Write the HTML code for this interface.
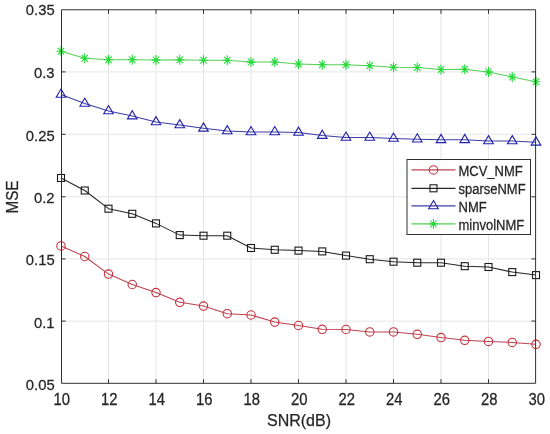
<!DOCTYPE html><html><head><meta charset="utf-8"><style>html,body{margin:0;padding:0;background:#fff;}svg{display:block;}text{font-family:"Liberation Sans",Arial,sans-serif;stroke:#262626;stroke-width:0.25px;}</style></head><body>
<svg width="550" height="434" viewBox="0 0 550 434">
<rect width="550" height="434" fill="#fff"/>
<path d="M108.50,9.75V383.3 M156.00,9.75V383.3 M203.50,9.75V383.3 M251.00,9.75V383.3 M298.50,9.75V383.3 M346.00,9.75V383.3 M393.50,9.75V383.3 M441.00,9.75V383.3 M488.50,9.75V383.3 M61.5,71.90H535.6 M61.5,134.30H535.6 M61.5,196.80H535.6 M61.5,258.90H535.6 M61.5,321.10H535.6" stroke="#e5e5e5" stroke-width="1" fill="none"/>
<polyline points="61.00,245.90 84.75,256.50 108.50,274.10 132.25,284.50 156.00,292.60 179.75,302.30 203.50,306.10 227.25,313.70 251.00,315.00 274.75,322.10 298.50,325.50 322.25,329.30 346.00,329.50 369.75,331.90 393.50,331.90 417.25,334.30 441.00,337.60 464.75,340.30 488.50,341.40 512.25,342.40 536.00,344.30" fill="none" stroke="#bd4250" stroke-width="1.05" stroke-linejoin="round"/>
<circle cx="61.00" cy="245.90" r="4.2" fill="none" stroke="#c8303c" stroke-width="1.1"/>
<circle cx="84.75" cy="256.50" r="4.2" fill="none" stroke="#c8303c" stroke-width="1.1"/>
<circle cx="108.50" cy="274.10" r="4.2" fill="none" stroke="#c8303c" stroke-width="1.1"/>
<circle cx="132.25" cy="284.50" r="4.2" fill="none" stroke="#c8303c" stroke-width="1.1"/>
<circle cx="156.00" cy="292.60" r="4.2" fill="none" stroke="#c8303c" stroke-width="1.1"/>
<circle cx="179.75" cy="302.30" r="4.2" fill="none" stroke="#c8303c" stroke-width="1.1"/>
<circle cx="203.50" cy="306.10" r="4.2" fill="none" stroke="#c8303c" stroke-width="1.1"/>
<circle cx="227.25" cy="313.70" r="4.2" fill="none" stroke="#c8303c" stroke-width="1.1"/>
<circle cx="251.00" cy="315.00" r="4.2" fill="none" stroke="#c8303c" stroke-width="1.1"/>
<circle cx="274.75" cy="322.10" r="4.2" fill="none" stroke="#c8303c" stroke-width="1.1"/>
<circle cx="298.50" cy="325.50" r="4.2" fill="none" stroke="#c8303c" stroke-width="1.1"/>
<circle cx="322.25" cy="329.30" r="4.2" fill="none" stroke="#c8303c" stroke-width="1.1"/>
<circle cx="346.00" cy="329.50" r="4.2" fill="none" stroke="#c8303c" stroke-width="1.1"/>
<circle cx="369.75" cy="331.90" r="4.2" fill="none" stroke="#c8303c" stroke-width="1.1"/>
<circle cx="393.50" cy="331.90" r="4.2" fill="none" stroke="#c8303c" stroke-width="1.1"/>
<circle cx="417.25" cy="334.30" r="4.2" fill="none" stroke="#c8303c" stroke-width="1.1"/>
<circle cx="441.00" cy="337.60" r="4.2" fill="none" stroke="#c8303c" stroke-width="1.1"/>
<circle cx="464.75" cy="340.30" r="4.2" fill="none" stroke="#c8303c" stroke-width="1.1"/>
<circle cx="488.50" cy="341.40" r="4.2" fill="none" stroke="#c8303c" stroke-width="1.1"/>
<circle cx="512.25" cy="342.40" r="4.2" fill="none" stroke="#c8303c" stroke-width="1.1"/>
<circle cx="536.00" cy="344.30" r="4.2" fill="none" stroke="#c8303c" stroke-width="1.1"/>
<polyline points="61.00,178.00 84.75,190.50 108.50,208.70 132.25,213.80 156.00,223.40 179.75,235.10 203.50,235.70 227.25,235.70 251.00,248.00 274.75,249.80 298.50,250.60 322.25,251.40 346.00,255.60 369.75,259.20 393.50,261.70 417.25,262.70 441.00,262.70 464.75,266.20 488.50,267.00 512.25,272.10 536.00,275.10" fill="none" stroke="#262626" stroke-width="1.05" stroke-linejoin="round"/>
<rect x="57.50" y="174.50" width="7" height="7" fill="none" stroke="#1a1a1a" stroke-width="1.1"/>
<rect x="81.25" y="187.00" width="7" height="7" fill="none" stroke="#1a1a1a" stroke-width="1.1"/>
<rect x="105.00" y="205.20" width="7" height="7" fill="none" stroke="#1a1a1a" stroke-width="1.1"/>
<rect x="128.75" y="210.30" width="7" height="7" fill="none" stroke="#1a1a1a" stroke-width="1.1"/>
<rect x="152.50" y="219.90" width="7" height="7" fill="none" stroke="#1a1a1a" stroke-width="1.1"/>
<rect x="176.25" y="231.60" width="7" height="7" fill="none" stroke="#1a1a1a" stroke-width="1.1"/>
<rect x="200.00" y="232.20" width="7" height="7" fill="none" stroke="#1a1a1a" stroke-width="1.1"/>
<rect x="223.75" y="232.20" width="7" height="7" fill="none" stroke="#1a1a1a" stroke-width="1.1"/>
<rect x="247.50" y="244.50" width="7" height="7" fill="none" stroke="#1a1a1a" stroke-width="1.1"/>
<rect x="271.25" y="246.30" width="7" height="7" fill="none" stroke="#1a1a1a" stroke-width="1.1"/>
<rect x="295.00" y="247.10" width="7" height="7" fill="none" stroke="#1a1a1a" stroke-width="1.1"/>
<rect x="318.75" y="247.90" width="7" height="7" fill="none" stroke="#1a1a1a" stroke-width="1.1"/>
<rect x="342.50" y="252.10" width="7" height="7" fill="none" stroke="#1a1a1a" stroke-width="1.1"/>
<rect x="366.25" y="255.70" width="7" height="7" fill="none" stroke="#1a1a1a" stroke-width="1.1"/>
<rect x="390.00" y="258.20" width="7" height="7" fill="none" stroke="#1a1a1a" stroke-width="1.1"/>
<rect x="413.75" y="259.20" width="7" height="7" fill="none" stroke="#1a1a1a" stroke-width="1.1"/>
<rect x="437.50" y="259.20" width="7" height="7" fill="none" stroke="#1a1a1a" stroke-width="1.1"/>
<rect x="461.25" y="262.70" width="7" height="7" fill="none" stroke="#1a1a1a" stroke-width="1.1"/>
<rect x="485.00" y="263.50" width="7" height="7" fill="none" stroke="#1a1a1a" stroke-width="1.1"/>
<rect x="508.75" y="268.60" width="7" height="7" fill="none" stroke="#1a1a1a" stroke-width="1.1"/>
<rect x="532.50" y="271.60" width="7" height="7" fill="none" stroke="#1a1a1a" stroke-width="1.1"/>
<polyline points="61.00,94.40 84.75,103.40 108.50,110.90 132.25,116.10 156.00,122.00 179.75,125.00 203.50,128.30 227.25,131.00 251.00,131.90 274.75,131.90 298.50,132.50 322.25,135.60 346.00,137.40 369.75,137.40 393.50,138.40 417.25,139.20 441.00,139.80 464.75,139.80 488.50,141.00 512.25,141.00 536.00,142.30" fill="none" stroke="#3e3ca4" stroke-width="1.05" stroke-linejoin="round"/>
<path d="M61.00,89.00 L65.80,97.20 L56.20,97.20 Z" fill="none" stroke="#2222aa" stroke-width="1.1" stroke-linejoin="miter"/>
<path d="M84.75,98.00 L89.55,106.20 L79.95,106.20 Z" fill="none" stroke="#2222aa" stroke-width="1.1" stroke-linejoin="miter"/>
<path d="M108.50,105.50 L113.30,113.70 L103.70,113.70 Z" fill="none" stroke="#2222aa" stroke-width="1.1" stroke-linejoin="miter"/>
<path d="M132.25,110.70 L137.05,118.90 L127.45,118.90 Z" fill="none" stroke="#2222aa" stroke-width="1.1" stroke-linejoin="miter"/>
<path d="M156.00,116.60 L160.80,124.80 L151.20,124.80 Z" fill="none" stroke="#2222aa" stroke-width="1.1" stroke-linejoin="miter"/>
<path d="M179.75,119.60 L184.55,127.80 L174.95,127.80 Z" fill="none" stroke="#2222aa" stroke-width="1.1" stroke-linejoin="miter"/>
<path d="M203.50,122.90 L208.30,131.10 L198.70,131.10 Z" fill="none" stroke="#2222aa" stroke-width="1.1" stroke-linejoin="miter"/>
<path d="M227.25,125.60 L232.05,133.80 L222.45,133.80 Z" fill="none" stroke="#2222aa" stroke-width="1.1" stroke-linejoin="miter"/>
<path d="M251.00,126.50 L255.80,134.70 L246.20,134.70 Z" fill="none" stroke="#2222aa" stroke-width="1.1" stroke-linejoin="miter"/>
<path d="M274.75,126.50 L279.55,134.70 L269.95,134.70 Z" fill="none" stroke="#2222aa" stroke-width="1.1" stroke-linejoin="miter"/>
<path d="M298.50,127.10 L303.30,135.30 L293.70,135.30 Z" fill="none" stroke="#2222aa" stroke-width="1.1" stroke-linejoin="miter"/>
<path d="M322.25,130.20 L327.05,138.40 L317.45,138.40 Z" fill="none" stroke="#2222aa" stroke-width="1.1" stroke-linejoin="miter"/>
<path d="M346.00,132.00 L350.80,140.20 L341.20,140.20 Z" fill="none" stroke="#2222aa" stroke-width="1.1" stroke-linejoin="miter"/>
<path d="M369.75,132.00 L374.55,140.20 L364.95,140.20 Z" fill="none" stroke="#2222aa" stroke-width="1.1" stroke-linejoin="miter"/>
<path d="M393.50,133.00 L398.30,141.20 L388.70,141.20 Z" fill="none" stroke="#2222aa" stroke-width="1.1" stroke-linejoin="miter"/>
<path d="M417.25,133.80 L422.05,142.00 L412.45,142.00 Z" fill="none" stroke="#2222aa" stroke-width="1.1" stroke-linejoin="miter"/>
<path d="M441.00,134.40 L445.80,142.60 L436.20,142.60 Z" fill="none" stroke="#2222aa" stroke-width="1.1" stroke-linejoin="miter"/>
<path d="M464.75,134.40 L469.55,142.60 L459.95,142.60 Z" fill="none" stroke="#2222aa" stroke-width="1.1" stroke-linejoin="miter"/>
<path d="M488.50,135.60 L493.30,143.80 L483.70,143.80 Z" fill="none" stroke="#2222aa" stroke-width="1.1" stroke-linejoin="miter"/>
<path d="M512.25,135.60 L517.05,143.80 L507.45,143.80 Z" fill="none" stroke="#2222aa" stroke-width="1.1" stroke-linejoin="miter"/>
<path d="M536.00,136.90 L540.80,145.10 L531.20,145.10 Z" fill="none" stroke="#2222aa" stroke-width="1.1" stroke-linejoin="miter"/>
<polyline points="61.00,51.30 84.75,58.20 108.50,59.80 132.25,59.80 156.00,59.90 179.75,59.80 203.50,60.30 227.25,60.30 251.00,62.10 274.75,62.00 298.50,64.00 322.25,64.80 346.00,64.80 369.75,65.80 393.50,67.20 417.25,67.50 441.00,69.50 464.75,69.30 488.50,71.90 512.25,77.00 536.00,81.80" fill="none" stroke="#55d055" stroke-width="1.05" stroke-linejoin="round"/>
<path d="M61.00,46.30V56.30M56.60,51.30H65.40M57.90,47.90L64.10,54.70M57.90,54.70L64.10,47.90" stroke="#22da36" stroke-width="1.1" fill="none"/>
<path d="M84.75,53.20V63.20M80.35,58.20H89.15M81.65,54.80L87.85,61.60M81.65,61.60L87.85,54.80" stroke="#22da36" stroke-width="1.1" fill="none"/>
<path d="M108.50,54.80V64.80M104.10,59.80H112.90M105.40,56.40L111.60,63.20M105.40,63.20L111.60,56.40" stroke="#22da36" stroke-width="1.1" fill="none"/>
<path d="M132.25,54.80V64.80M127.85,59.80H136.65M129.15,56.40L135.35,63.20M129.15,63.20L135.35,56.40" stroke="#22da36" stroke-width="1.1" fill="none"/>
<path d="M156.00,54.90V64.90M151.60,59.90H160.40M152.90,56.50L159.10,63.30M152.90,63.30L159.10,56.50" stroke="#22da36" stroke-width="1.1" fill="none"/>
<path d="M179.75,54.80V64.80M175.35,59.80H184.15M176.65,56.40L182.85,63.20M176.65,63.20L182.85,56.40" stroke="#22da36" stroke-width="1.1" fill="none"/>
<path d="M203.50,55.30V65.30M199.10,60.30H207.90M200.40,56.90L206.60,63.70M200.40,63.70L206.60,56.90" stroke="#22da36" stroke-width="1.1" fill="none"/>
<path d="M227.25,55.30V65.30M222.85,60.30H231.65M224.15,56.90L230.35,63.70M224.15,63.70L230.35,56.90" stroke="#22da36" stroke-width="1.1" fill="none"/>
<path d="M251.00,57.10V67.10M246.60,62.10H255.40M247.90,58.70L254.10,65.50M247.90,65.50L254.10,58.70" stroke="#22da36" stroke-width="1.1" fill="none"/>
<path d="M274.75,57.00V67.00M270.35,62.00H279.15M271.65,58.60L277.85,65.40M271.65,65.40L277.85,58.60" stroke="#22da36" stroke-width="1.1" fill="none"/>
<path d="M298.50,59.00V69.00M294.10,64.00H302.90M295.40,60.60L301.60,67.40M295.40,67.40L301.60,60.60" stroke="#22da36" stroke-width="1.1" fill="none"/>
<path d="M322.25,59.80V69.80M317.85,64.80H326.65M319.15,61.40L325.35,68.20M319.15,68.20L325.35,61.40" stroke="#22da36" stroke-width="1.1" fill="none"/>
<path d="M346.00,59.80V69.80M341.60,64.80H350.40M342.90,61.40L349.10,68.20M342.90,68.20L349.10,61.40" stroke="#22da36" stroke-width="1.1" fill="none"/>
<path d="M369.75,60.80V70.80M365.35,65.80H374.15M366.65,62.40L372.85,69.20M366.65,69.20L372.85,62.40" stroke="#22da36" stroke-width="1.1" fill="none"/>
<path d="M393.50,62.20V72.20M389.10,67.20H397.90M390.40,63.80L396.60,70.60M390.40,70.60L396.60,63.80" stroke="#22da36" stroke-width="1.1" fill="none"/>
<path d="M417.25,62.50V72.50M412.85,67.50H421.65M414.15,64.10L420.35,70.90M414.15,70.90L420.35,64.10" stroke="#22da36" stroke-width="1.1" fill="none"/>
<path d="M441.00,64.50V74.50M436.60,69.50H445.40M437.90,66.10L444.10,72.90M437.90,72.90L444.10,66.10" stroke="#22da36" stroke-width="1.1" fill="none"/>
<path d="M464.75,64.30V74.30M460.35,69.30H469.15M461.65,65.90L467.85,72.70M461.65,72.70L467.85,65.90" stroke="#22da36" stroke-width="1.1" fill="none"/>
<path d="M488.50,66.90V76.90M484.10,71.90H492.90M485.40,68.50L491.60,75.30M485.40,75.30L491.60,68.50" stroke="#22da36" stroke-width="1.1" fill="none"/>
<path d="M512.25,72.00V82.00M507.85,77.00H516.65M509.15,73.60L515.35,80.40M509.15,80.40L515.35,73.60" stroke="#22da36" stroke-width="1.1" fill="none"/>
<path d="M536.00,76.80V86.80M531.60,81.80H540.40M532.90,78.40L539.10,85.20M532.90,85.20L539.10,78.40" stroke="#22da36" stroke-width="1.1" fill="none"/>
<path d="M61.5,9.75H535.6V383.3H61.5Z" fill="none" stroke="#303030" stroke-width="1"/>
<path d="M108.50,383.3v-4.1M108.50,9.75v4.1M156.00,383.3v-4.1M156.00,9.75v4.1M203.50,383.3v-4.1M203.50,9.75v4.1M251.00,383.3v-4.1M251.00,9.75v4.1M298.50,383.3v-4.1M298.50,9.75v4.1M346.00,383.3v-4.1M346.00,9.75v4.1M393.50,383.3v-4.1M393.50,9.75v4.1M441.00,383.3v-4.1M441.00,9.75v4.1M488.50,383.3v-4.1M488.50,9.75v4.1M61.5,71.90h4.1M535.6,71.90h-4.1M61.5,134.30h4.1M535.6,134.30h-4.1M61.5,196.80h4.1M535.6,196.80h-4.1M61.5,258.90h4.1M535.6,258.90h-4.1M61.5,321.10h4.1M535.6,321.10h-4.1" stroke="#303030" stroke-width="1" fill="none"/>
<text transform="translate(61.70,404.5) scale(1,1.07)" text-anchor="middle" font-size="14.8" fill="#262626">10</text>
<text transform="translate(109.20,404.5) scale(1,1.07)" text-anchor="middle" font-size="14.8" fill="#262626">12</text>
<text transform="translate(156.70,404.5) scale(1,1.07)" text-anchor="middle" font-size="14.8" fill="#262626">14</text>
<text transform="translate(204.20,404.5) scale(1,1.07)" text-anchor="middle" font-size="14.8" fill="#262626">16</text>
<text transform="translate(251.70,404.5) scale(1,1.07)" text-anchor="middle" font-size="14.8" fill="#262626">18</text>
<text transform="translate(299.20,404.5) scale(1,1.07)" text-anchor="middle" font-size="14.8" fill="#262626">20</text>
<text transform="translate(346.70,404.5) scale(1,1.07)" text-anchor="middle" font-size="14.8" fill="#262626">22</text>
<text transform="translate(394.20,404.5) scale(1,1.07)" text-anchor="middle" font-size="14.8" fill="#262626">24</text>
<text transform="translate(441.70,404.5) scale(1,1.07)" text-anchor="middle" font-size="14.8" fill="#262626">26</text>
<text transform="translate(489.20,404.5) scale(1,1.07)" text-anchor="middle" font-size="14.8" fill="#262626">28</text>
<text transform="translate(536.70,404.5) scale(1,1.07)" text-anchor="middle" font-size="14.8" fill="#262626">30</text>
<text transform="translate(54.6,15.30) scale(1,1.05)" text-anchor="end" font-size="14.8" fill="#262626">0.35</text>
<text transform="translate(54.6,77.50) scale(1,1.05)" text-anchor="end" font-size="14.8" fill="#262626">0.3</text>
<text transform="translate(54.6,140.50) scale(1,1.05)" text-anchor="end" font-size="14.8" fill="#262626">0.25</text>
<text transform="translate(54.6,202.50) scale(1,1.05)" text-anchor="end" font-size="14.8" fill="#262626">0.2</text>
<text transform="translate(54.6,264.50) scale(1,1.05)" text-anchor="end" font-size="14.8" fill="#262626">0.15</text>
<text transform="translate(54.6,327.50) scale(1,1.05)" text-anchor="end" font-size="14.8" fill="#262626">0.1</text>
<text transform="translate(54.6,389.60) scale(1,1.05)" text-anchor="end" font-size="14.8" fill="#262626">0.05</text>
<text x="299" y="426" text-anchor="middle" font-size="16" fill="#262626">SNR(dB)</text>
<text transform="translate(17.9,197) rotate(-90) scale(1,1.06)" text-anchor="middle" font-size="15.3" fill="#262626">MSE</text>
<rect x="407.0" y="159.5" width="123.5" height="75.0" fill="#fff" stroke="#303030" stroke-width="1"/>
<path d="M411.5,169.90H455.5" stroke="#bd4250" stroke-width="1.3"/>
<circle cx="433.50" cy="169.90" r="4.2" fill="none" stroke="#c8303c" stroke-width="1.1"/>
<text transform="translate(458.5,175.80) scale(1,1.08)" font-size="13" fill="#262626">MCV_NMF</text>
<path d="M411.5,188.30H455.5" stroke="#262626" stroke-width="1.3"/>
<rect x="430.00" y="184.80" width="7" height="7" fill="none" stroke="#1a1a1a" stroke-width="1.1"/>
<text transform="translate(458.5,194.20) scale(1,1.08)" font-size="13" fill="#262626">sparseNMF</text>
<path d="M411.5,205.90H455.5" stroke="#3e3ca4" stroke-width="1.3"/>
<path d="M433.50,200.50 L438.30,208.70 L428.70,208.70 Z" fill="none" stroke="#2222aa" stroke-width="1.1" stroke-linejoin="miter"/>
<text transform="translate(458.5,211.80) scale(1,1.08)" font-size="13" fill="#262626">NMF</text>
<path d="M411.5,223.90H455.5" stroke="#55d055" stroke-width="1.3"/>
<path d="M433.50,218.90V228.90M429.10,223.90H437.90M430.40,220.50L436.60,227.30M430.40,227.30L436.60,220.50" stroke="#22da36" stroke-width="1.1" fill="none"/>
<text transform="translate(458.5,229.80) scale(1,1.08)" font-size="13" fill="#262626">minvolNMF</text>
</svg></body></html>
